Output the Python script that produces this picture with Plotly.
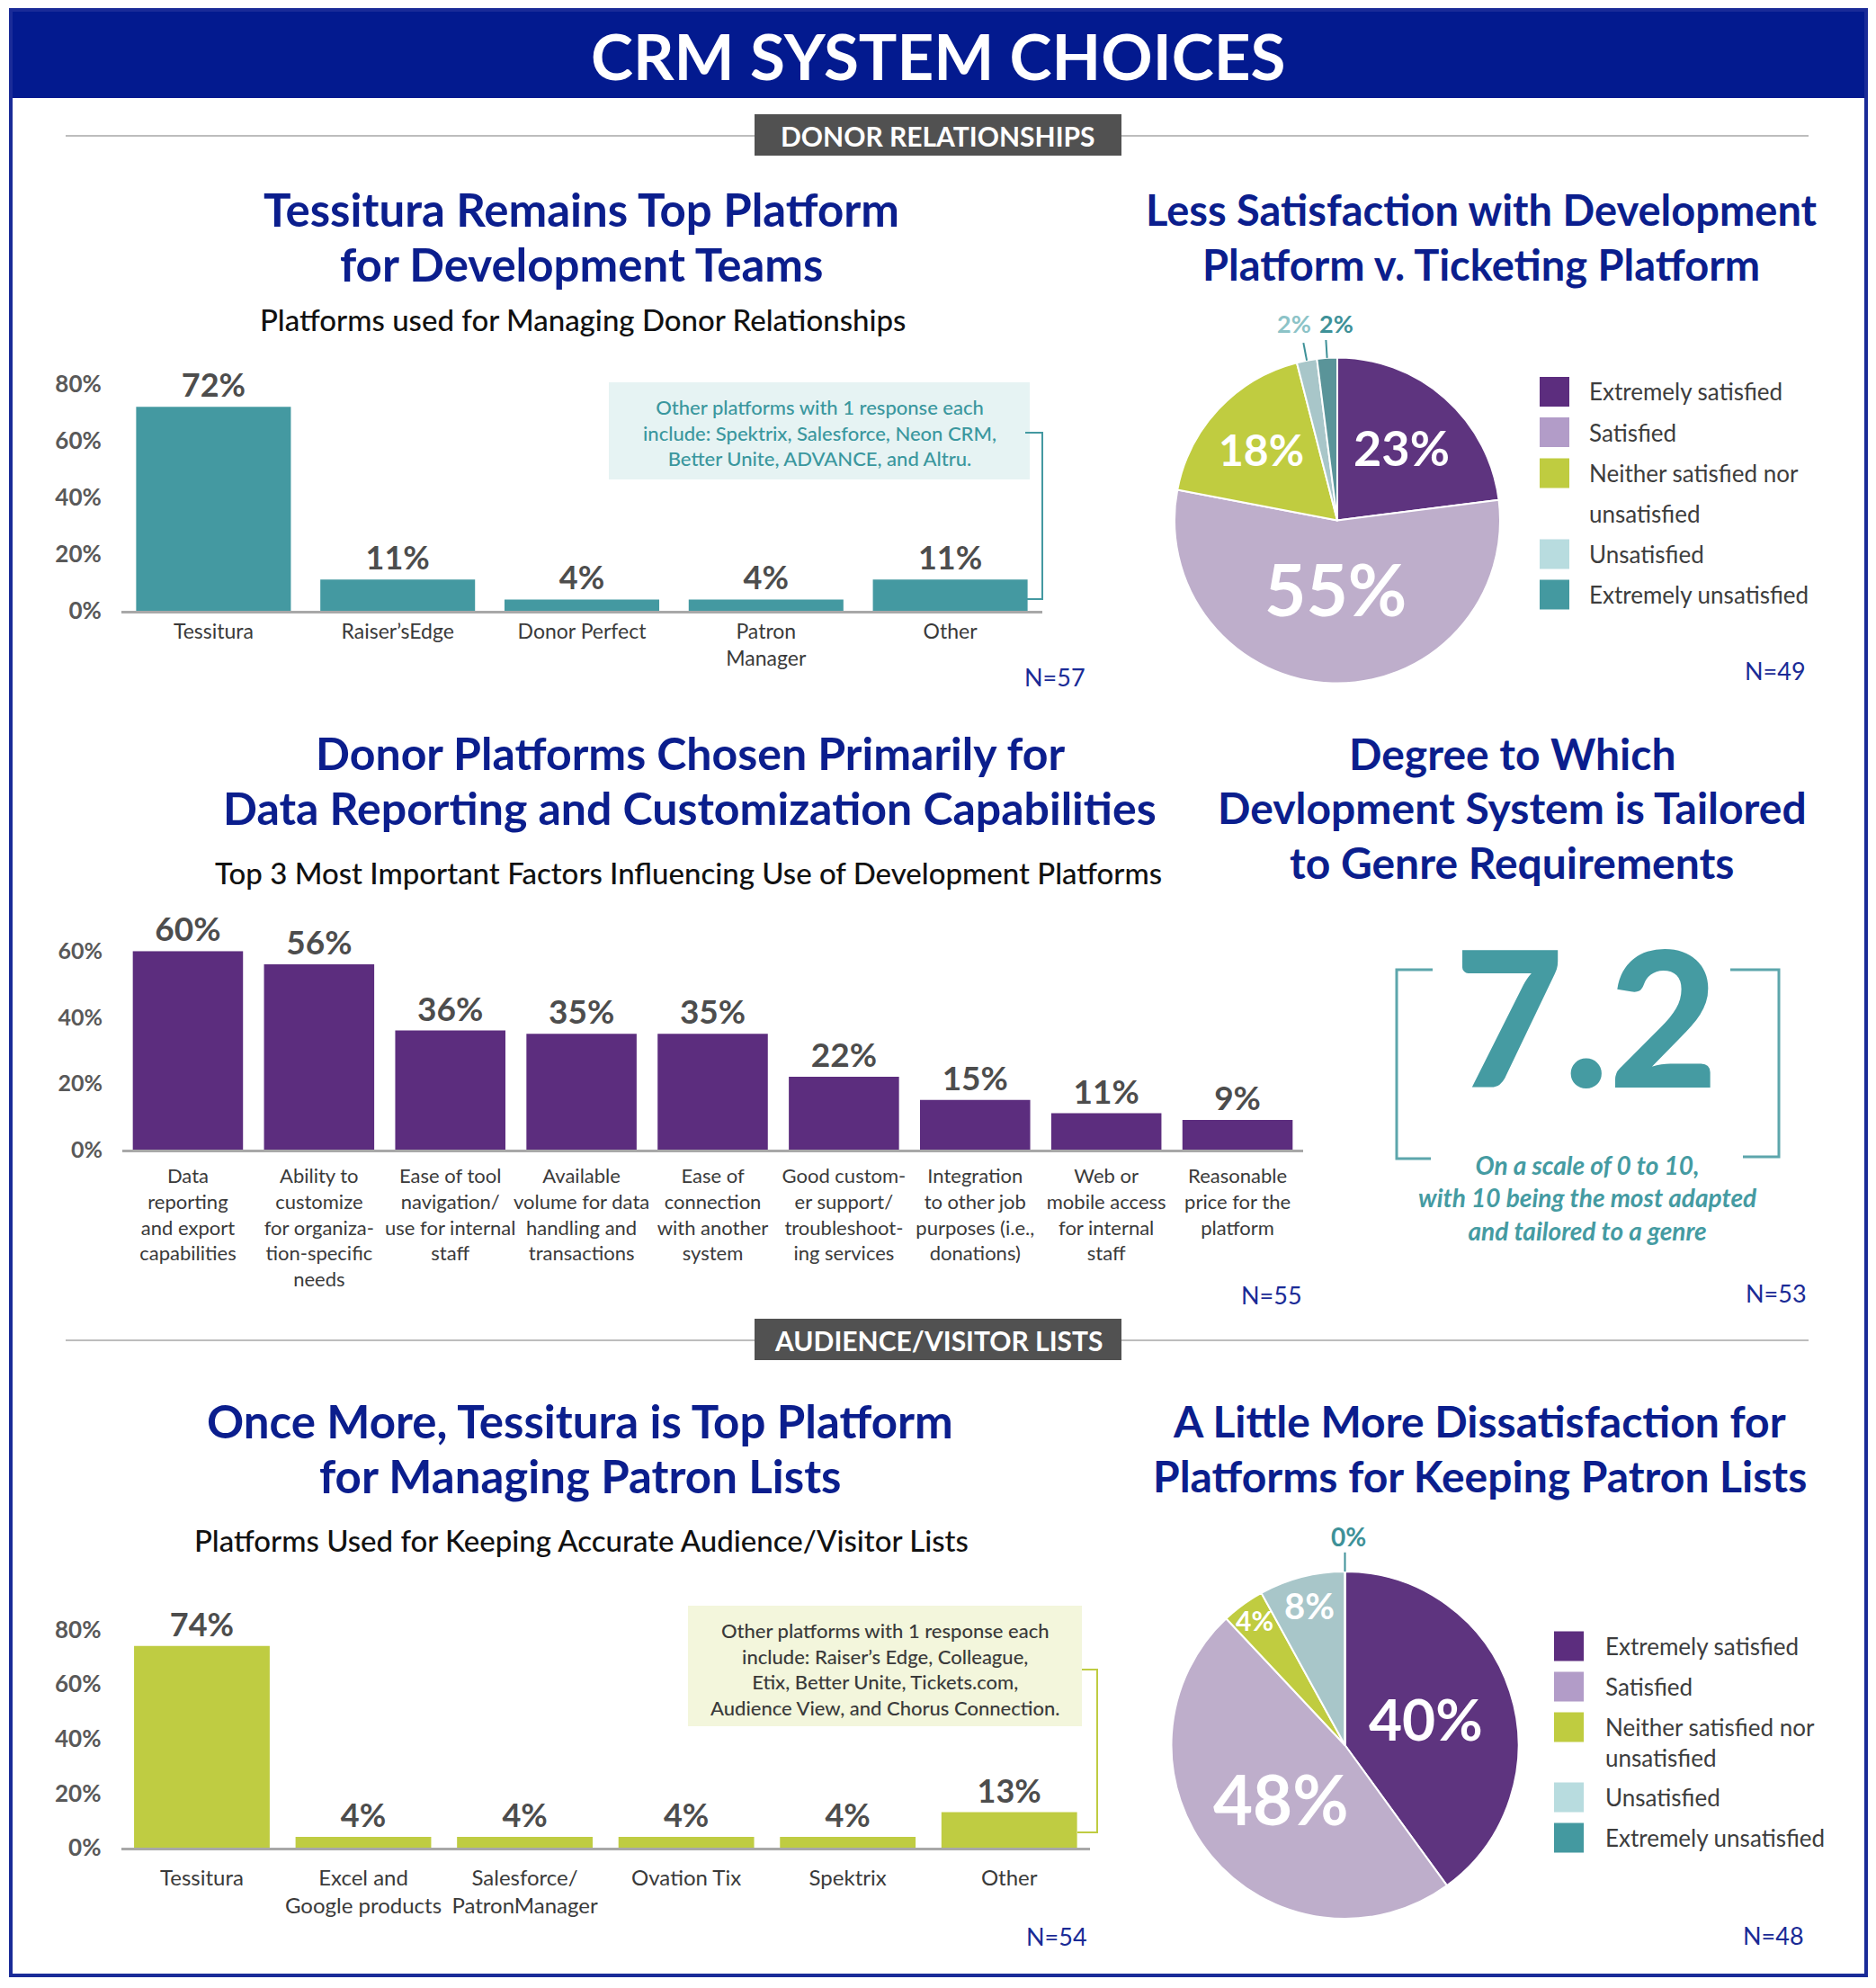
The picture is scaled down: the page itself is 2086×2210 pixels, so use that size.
import math
import plotly.graph_objects as go

W, H = 2086, 2210

# ---------------- data ----------------
donor_platforms = ["Tessitura", "Raiser’sEdge", "Donor Perfect", "Patron<br>Manager", "Other"]
donor_platform_pct = [72, 11, 4, 4, 11]

factor_labels = [
    "Data<br>reporting<br>and export<br>capabilities",
    "Ability to<br>customize<br>for organiza-<br>tion-specific<br>needs",
    "Ease of tool<br>navigation/<br>use for internal<br>staff",
    "Available<br>volume for data<br>handling and<br>transactions",
    "Ease of<br>connection<br>with another<br>system",
    "Good custom-<br>er support/<br>troubleshoot-<br>ing services",
    "Integration<br>to other job<br>purposes (i.e.,<br>donations)",
    "Web or<br>mobile access<br>for internal<br>staff",
    "Reasonable<br>price for the<br>platform",
]
factor_pct = [60, 56, 36, 35, 35, 22, 15, 11, 9]

audience_platforms = ["Tessitura", "Excel and<br>Google products", "Salesforce/<br>PatronManager",
                      "Ovation Tix", "Spektrix", "Other"]
audience_pct = [74, 4, 4, 4, 4, 13]

satisfaction_levels = ["Extremely satisfied", "Satisfied", "Neither satisfied nor unsatisfied",
                       "Unsatisfied", "Extremely unsatisfied"]
legend_lines = [["Extremely satisfied"], ["Satisfied"], ["Neither satisfied nor", "unsatisfied"],
                ["Unsatisfied"], ["Extremely unsatisfied"]]
dev_satisfaction = [23, 55, 18, 2, 2]
patron_satisfaction = [40, 48, 4, 8, 0]

tailored_score = "7.2"
y_ticks_80 = [0, 20, 40, 60, 80]
y_ticks_60 = [0, 20, 40, 60]
n_counts = {"donor": 57, "devsat": 49, "factors": 55, "tailored": 53, "audience": 54, "patsat": 48}

titles = {
    "donor": ["Tessitura Remains Top Platform", "for Development Teams"],
    "devsat": ["Less Satisfaction with Development", "Platform v. Ticketing Platform"],
    "factors": ["Donor Platforms Chosen Primarily for", "Data Reporting and Customization Capabilities"],
    "tailored": ["Degree to Which", "Devlopment System is Tailored", "to Genre Requirements"],
    "audience": ["Once More, Tessitura is Top Platform", "for Managing Patron Lists"],
    "patsat": ["A Little More Dissatisfaction for", "Platforms for Keeping Patron Lists"],
}
subtitles = {
    "donor": "Platforms used for Managing Donor Relationships",
    "factors": "Top 3 Most Important Factors Influencing Use of Development Platforms",
    "audience": "Platforms Used for Keeping Accurate Audience/Visitor Lists",
}
other_note_donor = "Other platforms with 1 response each<br>include: Spektrix, Salesforce, Neon CRM,<br>Better Unite, ADVANCE, and Altru."
other_note_audience = ("Other platforms with 1 response each<br>include: Raiser’s Edge, Colleague,<br>"
                       "Etix, Better Unite, Tickets.com,<br>Audience View, and Chorus Connection.")
caption_tailored = "On a scale of 0 to 10,<br>with 10 being the most adapted<br>and tailored to a genre"

# ---------------- style ----------------
FONT = "Lato"
NAVY = "#0B1E8D"
HEADER_BG = "#031A8F"
TEAL = "#4499A1"
PURPLE = "#5C2D7E"
LIME = "#BFCC42"
GRAY_TXT = "#4D4D4D"
PIE_COLORS = ["#5E347F", "#BEAECB", "#C0CC40", "#A8C6C9", "#5A9499"]
LEGEND_COLORS = ["#5C2D7E", "#B29CC8", "#BFCC40", "#B8DCDF", "#4499A0"]


def xp(x):
    return x / W


def yp(y):
    return 1 - y / H


fig = go.Figure()
shapes = []
annotations = []


def txt(x, y, s, size, color, weight=400, xanchor="center", yanchor="middle", italic=False, align="center"):
    annotations.append(dict(
        x=xp(x), y=yp(y), xref="paper", yref="paper", text=s, showarrow=False,
        font=dict(family=FONT, size=size, color=color, weight=weight,
                  style="italic" if italic else "normal"),
        xanchor=xanchor, yanchor=yanchor, align=align))


def rect(x0, y0, x1, y1, fill, line_color=None, lw=0, layer="below"):
    shapes.append(dict(type="rect", xref="paper", yref="paper", x0=xp(x0), x1=xp(x1), y0=yp(y1), y1=yp(y0),
                       fillcolor=fill, line=dict(color=line_color or "rgba(0,0,0,0)", width=lw), layer=layer))


def path(points, color, lw, layer="above"):
    d = "M " + " L ".join(f"{xp(x)},{yp(y)}" for x, y in points)
    shapes.append(dict(type="path", xref="paper", yref="paper", path=d, line=dict(color=color, width=lw),
                       fillcolor="rgba(0,0,0,0)", layer=layer))


# ---------------- frame / header ----------------
rect(11, 11, 2077, 109, HEADER_BG)
rect(12, 11, 2075, 2196, "rgba(0,0,0,0)", "#1A2B98", 4, layer="above")
txt(1043, 61, "CRM SYSTEM CHOICES", 71, "white", weight=700)

for ly, label in [(151, "DONOR RELATIONSHIPS"), (1490, "AUDIENCE/VISITOR LISTS")]:
    path([(73, ly), (2011, ly)], "#BDBDBD", 2, layer="below")
    rect(839, ly - 24, 1247, ly + 22, "#515151")
    txt(1043, ly, label, 30, "white", weight=700)

# ---------------- bar charts ----------------
def add_bars(cats, vals, color, xa, ya, size=36):
    fig.add_trace(go.Bar(
        x=cats, y=vals, marker=dict(color=color, line=dict(width=0)),
        text=[f"{v}%" for v in vals], textposition="outside", constraintext="none",
        textfont=dict(family=FONT, size=size, color=GRAY_TXT, weight=700),
        cliponaxis=False, xaxis=xa, yaxis=ya, hoverinfo="skip", showlegend=False))


add_bars(donor_platforms, donor_platform_pct, TEAL, "x", "y")
add_bars(factor_labels, factor_pct, PURPLE, "x2", "y2", size=37)
add_bars(audience_platforms, audience_pct, LIME, "x3", "y3", size=36)


def xaxis_cfg(x0, x1, anchor, size, ticklen):
    return dict(domain=[xp(x0), xp(x1)], anchor=anchor, type="category", showline=True,
                linecolor="#A8A8A8", linewidth=3, showgrid=False, zeroline=False, tickangle=0,
                ticks="outside" if ticklen else "", ticklen=max(ticklen, 1), tickcolor="rgba(0,0,0,0)",
                automargin=False, tickfont=dict(family=FONT, size=size, color="#3A3A3A"), fixedrange=True)


def yaxis_cfg(y_base, px_per, top_val, ticks, anchor, size):
    return dict(domain=[yp(y_base), yp(y_base - px_per * top_val)], anchor=anchor, range=[0, top_val],
                tickmode="array", tickvals=ticks, ticktext=[f"{t}%" for t in ticks],
                showgrid=False, zeroline=False, showline=False, automargin=False,
                ticks="outside", ticklen=16, tickcolor="rgba(0,0,0,0)",
                tickfont=dict(family=FONT, size=size, color="#595959", weight=700), fixedrange=True)


# ---------------- pies ----------------
def add_pie(vals, cx, cy, R):
    fig.add_trace(go.Pie(
        labels=satisfaction_levels, values=vals, sort=False, direction="clockwise", rotation=0,
        marker=dict(colors=PIE_COLORS, line=dict(color="white", width=2)), textinfo="none",
        domain=dict(x=[xp(cx - R), xp(cx + R)], y=[yp(cy + R), yp(cy - R)]),
        showlegend=False, hoverinfo="skip"))


def pie_labels(vals, cx, cy, R, rfac, sizes, colors, dxs, leader):
    total = float(sum(vals))
    cum = 0.0
    for i, v in enumerate(vals):
        mid = (cum + v / 2.0) / total * 2 * math.pi
        cum += v
        r = rfac[i] * R
        lx = cx + r * math.sin(mid) + dxs[i]
        ly = cy - r * math.cos(mid)
        txt(lx, ly, f"{v}%", sizes[i], colors[i], weight=700)
        if leader[i]:
            p0 = (cx + R * math.sin(mid), cy - R * math.cos(mid))
            p1 = (cx + 1.11 * R * math.sin(mid), cy - 1.11 * R * math.cos(mid))
            path([p0, p1], "#3E9198", 2)


def add_legend(sq_x, text_x, rows_y, wrap_gap):
    for i, lines in enumerate(legend_lines):
        cy = rows_y[i]
        rect(sq_x, cy - 16.5, sq_x + 33, cy + 16.5, LEGEND_COLORS[i], layer="above")
        for j, line in enumerate(lines):
            txt(text_x, cy + j * wrap_gap, line, 26, "#3D3D3D", xanchor="left")


P1 = (1487, 578.5, 181)
add_pie(dev_satisfaction, *P1)
pie_labels(dev_satisfaction, *P1, rfac=[0.6, 0.42, 0.64, 1.23, 1.21], sizes=[54, 80, 48, 27, 27],
           colors=["white", "white", "white", "#8CC3C7", "#3E9198"], dxs=[0, 0, 0, -6, 13],
           leader=[False, False, False, True, True])
add_legend(1712, 1765, [435.5, 480.5, 526, 616, 661], 45)

P2 = (1495.5, 1940, 193)
add_pie(patron_satisfaction, *P2)
pie_labels(patron_satisfaction, *P2, rfac=[0.49, 0.48, 0.89, 0.83, 1.2], sizes=[64, 76, 30, 40, 28],
           colors=["white", "white", "white", "white", "#3E9198"], dxs=[0, 0, 0, 0, 4],
           leader=[False, False, False, False, True])
add_legend(1728, 1783, [1830, 1875, 1920, 1998, 2043], 34)

# ---------------- titles ----------------
def title(key, x, y0, size, gap=61):
    for j, line in enumerate(titles[key]):
        txt(x, y0 + j * gap, line, size, NAVY, weight=700)


title("donor", 646, 233, 51)
title("devsat", 1647, 233, 47)
title("factors", 767, 837, 50)
title("tailored", 1681, 837, 48, gap=60.5)
title("audience", 645, 1579, 51)
title("patsat", 1645, 1579, 48)
txt(648, 355, subtitles["donor"], 33, "#111111", weight=500)
txt(765, 970, subtitles["factors"], 33, "#111111", weight=500)
txt(646, 1712, subtitles["audience"], 33, "#111111", weight=500)

# ---------------- notes / brackets ----------------
rect(677, 425, 1145, 533, "#E6F3F3")
txt(911, 481, other_note_donor, 22, "#3A979E", weight=500)
path([(1140, 481), (1159, 481), (1159, 666), (1142, 666)], "#4499A1", 2)

rect(765, 1785, 1203, 1919, "#F3F6DC")
txt(984, 1855, other_note_audience, 22, "#3A3A3A", weight=500)
path([(1203, 1856), (1220, 1856), (1220, 2037), (1198, 2037)], LIME, 2)

# ---------------- 7.2 ----------------
path([(1593, 1078), (1553, 1078), (1553, 1288), (1591, 1288)], "#5DA6AC", 3)
path([(1924, 1078), (1978, 1078), (1978, 1286), (1938, 1286)], "#5DA6AC", 3)
txt(1764, 1128, tailored_score, 210, "#459BA2", weight=900)
txt(1765, 1331, caption_tailored, 28, "#459BA2", weight=700, italic=True)

# ---------------- N labels ----------------
for key, (x, y) in {"donor": (1173, 752), "devsat": (1974, 745), "factors": (1414, 1439),
                    "tailored": (1975, 1437), "audience": (1175, 2152), "patsat": (1972, 2151)}.items():
    txt(x, y, f"N={n_counts[key]}", 27, "#1A2B96")

fig.update_layout(
    width=W, height=H, autosize=False, margin=dict(l=0, r=0, t=0, b=0, pad=0, autoexpand=False),
    paper_bgcolor="white", plot_bgcolor="rgba(0,0,0,0)", bargap=0.16, showlegend=False,
    font=dict(family=FONT),
    xaxis=xaxis_cfg(135, 1159, "y", 23, 0),
    yaxis=yaxis_cfg(679, 3.15, 80, y_ticks_80, "x", 26),
    xaxis2=xaxis_cfg(136, 1449, "y2", 22, 8),
    yaxis2=yaxis_cfg(1278, 3.68, 60, y_ticks_60, "x2", 25),
    xaxis3=xaxis_cfg(134.7, 1212, "y3", 24, 10),
    yaxis3=yaxis_cfg(2054, 3.03, 80, y_ticks_80, "x3", 26),
    shapes=shapes, annotations=annotations,
)

fig.write_html("out.html", config={"displayModeBar": False, "responsive": False},
               post_script="document.body.style.margin='0px';")
